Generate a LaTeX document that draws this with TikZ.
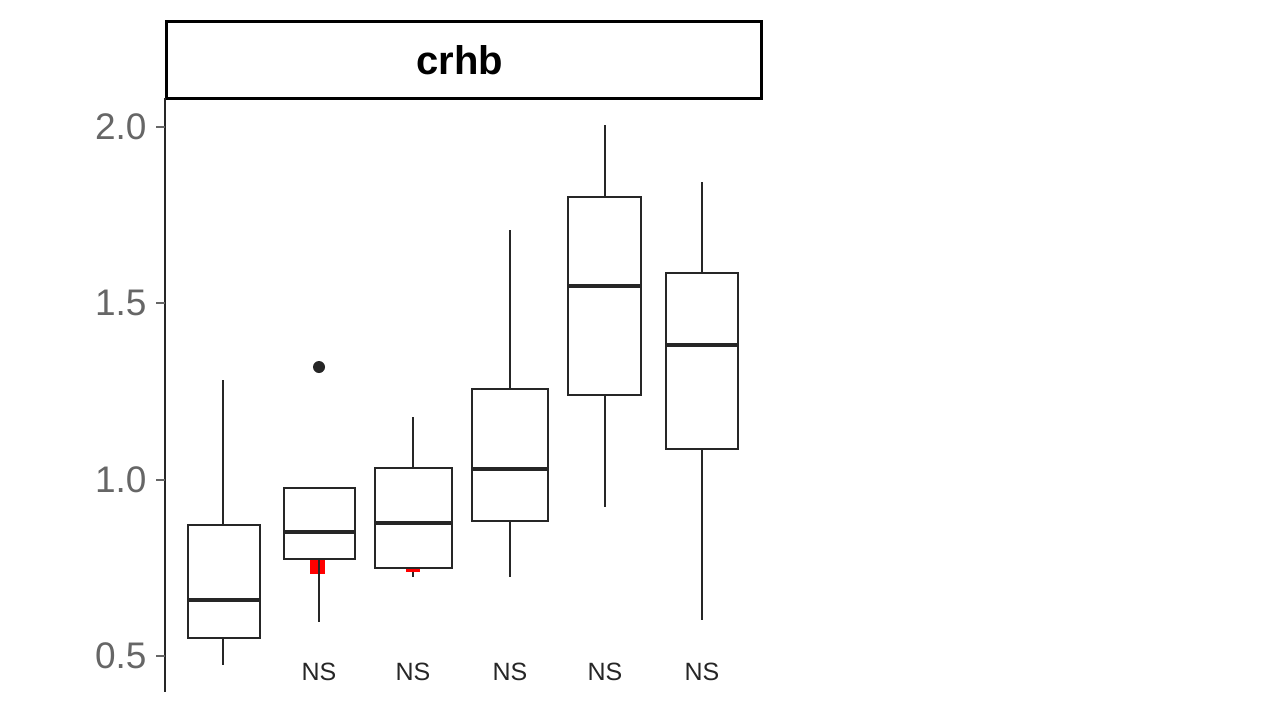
\documentclass[tikz,border=0pt]{standalone}
\usepackage{fontspec}
\setmainfont{Liberation Sans}
\begin{document}
\begin{tikzpicture}[x=1pt,y=-1pt,
  bx/.style={draw=black!85,line width=1.8pt,fill=white},
  med/.style={line width=3.6pt,black!85},
  wh/.style={line width=1.8pt,black!85},
  tk/.style={font=\fontsize{37}{39}\selectfont,text=black!60,anchor=east},
  ns/.style={font=\fontsize{25}{27}\selectfont,text=black!85}]
\useasboundingbox (0,0) rectangle (1280,720);
\fill[white] (0,0) rectangle (1280,720);
% strip
\node[draw,line width=3pt,minimum width=595pt,minimum height=77pt,anchor=north west,inner sep=0] (strip) at (165,20) {};
\node[font=\bfseries\fontsize{40}{42}\selectfont] (lab) at (460,60) {crhb};
% axis
\coordinate (a1) at (165,98); \coordinate (a2) at (165,692);
\draw[line width=1.8pt,black!85] (a1) -- (a2);
\foreach \v/\y in {2.0/127,1.5/303,1.0/480,0.5/656}{
  \draw[line width=1.8pt,black!60] (156,\y) -- (165,\y);
  \node[tk] at (150,\y) {\v};}
% boxes: cx, x1, x2, wtop, top, med, bot, wbot
\foreach \cx/\xa/\xb/\wt/\t/\m/\b/\wb in {
  223/188/260/380/525/600/638/665,
  319/284/355/488/488/532/559/622,
  413/375/452/417/468/523/568/577,
  510/472/548/230/389/469/521/577,
  605/568/641/125/197/286/395/507,
  702/666/738/182/273/345/449/620}{
  \draw[wh] (\cx,\wt) -- (\cx,\wb);
  \draw[bx] (\xa,\t) rectangle (\xb,\b);
  \draw[med] (\xa,\m) -- (\xb,\m);}
\fill[red] (310,560) rectangle (325,574);
\draw[wh] (319,560) -- (319,622);
\fill[red] (406,569) rectangle (420,572);
\fill[black!85] (319,367) circle (6pt);
\foreach \x in {319,413,510,605,702}{\node[ns] at (\x,672) {NS};}
\end{tikzpicture}
\end{document}
